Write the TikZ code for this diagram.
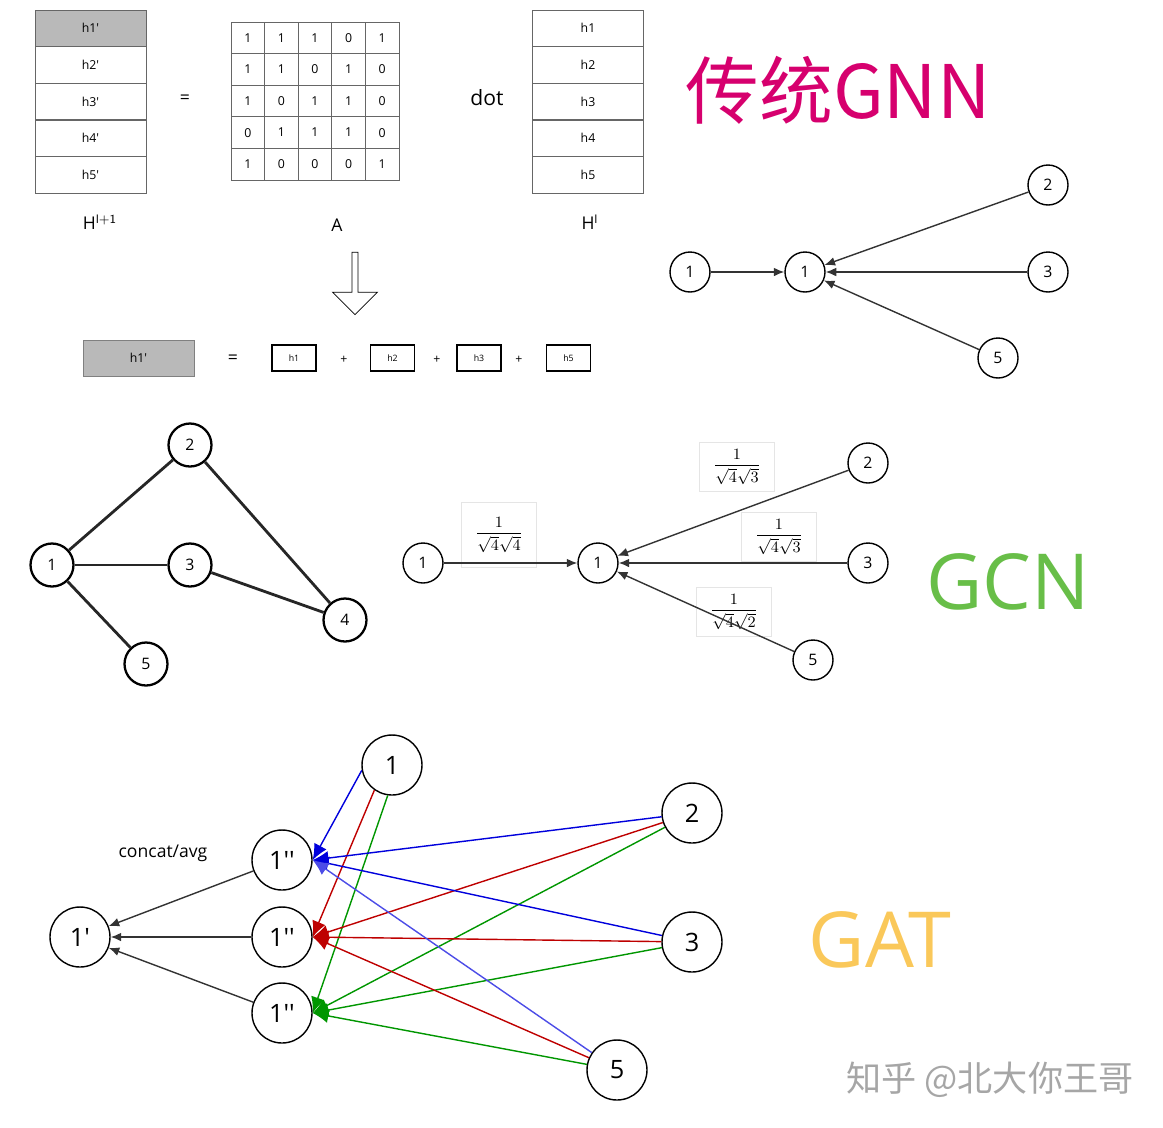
\documentclass[tikz,border=0pt]{standalone}
\usepackage{fontspec}
\setmainfont{Open Sans}
\newfontfamily\cjk{Noto Sans CJK SC}
\usetikzlibrary{arrows.meta,shapes.arrows}
\definecolor{mag}{RGB}{214,0,110}
\definecolor{gcng}{RGB}{104,190,72}
\definecolor{gato}{RGB}{250,200,90}
\definecolor{eb}{RGB}{0,0,220}
\definecolor{er}{RGB}{190,0,0}
\definecolor{eg}{RGB}{0,150,0}
\newcommand{\pq}{\textquotesingle}
\newcommand{\fr}[1]{$\displaystyle\frac{1}{#1}$}
\begin{document}
\begin{tikzpicture}[x=0.02cm,y=-0.02cm,
 cell/.style={draw=gray!80!black,minimum width=2.22cm,minimum height=0.73cm,inner sep=0,font=\scriptsize},
 mc/.style={draw=gray!80!black,minimum width=0.672cm,minimum height=0.632cm,inner sep=0,font=\scriptsize},
 sm/.style={draw,thick,minimum width=0.88cm,minimum height=0.52cm,inner sep=0,font=\tiny},
 gn/.style={circle,draw,thick,minimum size=0.8cm,inner sep=0,font=\small},
 gk/.style={circle,draw,line width=1.3pt,minimum size=0.86cm,inner sep=0,font=\small},
 tn/.style={circle,draw,thick,minimum size=1.2cm,inner sep=0,font=\Large},
 ar/.style={-{Latex[length=6pt,width=5pt]},thick,black!80},
 lb/.style={draw=gray!20,inner xsep=8pt,inner ysep=4pt,font=\small},
 ca/.style={-{Latex[length=9pt,width=8pt]},thick}]
\useasboundingbox (0,0) rectangle (1163,1127);
% left column
\foreach \i/\t in {1/h1\pq,2/h2\pq,3/h3\pq,4/h4\pq,5/h5\pq}{
 \node[cell] (L\i) at (90.5,{10+36.6*(\i-0.5)}) {\t};}
\node[cell,fill=gray!55] at (L1) {h1\pq};
% matrix
\foreach \r [count=\i] in {{1,1,1,0,1},{1,1,0,1,0},{1,0,1,1,0},{0,1,1,1,0},{1,0,0,0,1}}{
 \foreach \v [count=\j] in \r {
  \node[mc] (m\i\j) at ({231+33.6*(\j-0.5)},{22+31.6*(\i-0.5)}) {\v};}}
\foreach \i/\t in {1/h1,2/h2,3/h3,4/h4,5/h5}{
 \node[cell] (R\i) at (588,{10+36.6*(\i-0.5)}) {\t};}
\node (eq1) at (185,99) {=};
\node[font=\large] (dot) at (487,98) {dot};
\node (Hl1) at (100,222) {H$^{\mathsf{l+1}}$};
\node (A) at (337,225) {A};
\node (Hl) at (590,222) {H$^{\mathsf{l}}$};
\node[single arrow,draw,shape border rotate=270,minimum height=1.25cm,minimum width=0.9cm,single arrow head extend=0.28cm,inner sep=1pt] (down) at (355,282) {};
% bottom row
\node[draw=gray,fill=gray!55,minimum width=2.22cm,minimum height=0.72cm,font=\scriptsize] (hb) at (138.5,358) {h1\pq};
\node (eq2) at (233,359) {=};
\node[sm] (b1) at (294,358) {h1};
\node[font=\scriptsize] at (344,360) {+};
\node[sm] (b2) at (392.5,358) {h2};
\node[font=\scriptsize] at (437,360) {+};
\node[sm] (b3) at (479,358) {h3};
\node[font=\scriptsize] at (519,360) {+};
\node[sm] (b5) at (568.5,358) {h5};
\node[text=mag,font={\cjk\fontsize{42}{50}\selectfont}] at (838,90) {传统GNN};
% GNN graph
\node[gn] (n1l) at (690,272) {1};
\node[gn] (n1c) at (805,272) {1};
\node[gn] (n2) at (1048,185) {2};
\node[gn] (n3) at (1048,272) {3};
\node[gn] (n5) at (998,358) {5};
\foreach \s in {n1l,n2,n3,n5}{\draw[ar] (\s) -- (n1c);}
% GCN left graph
\node[gk] (g1) at (52,565) {1};
\node[gk] (g2) at (190,445) {2};
\node[gk] (g3) at (190,565) {3};
\node[gk] (g4) at (345,620) {4};
\node[gk] (g5) at (146,664) {5};
\foreach \a/\b in {g1/g2,g1/g3,g1/g5,g2/g4,g3/g4}{\draw[line width=1.6pt,black!85] (\a) -- (\b);}
% GCN right
\node[gn] (c1l) at (423,563) {1};
\node[gn] (c1c) at (598,563) {1};
\node[gn] (c2) at (868,463) {2};
\node[gn] (c3) at (868,563) {3};
\node[gn] (c5) at (813,660) {5};
\node[lb,minimum height=1.3cm] (f1) at (499,535) {\fr{\sqrt4\sqrt4}};
\node[lb] (f2) at (737,467) {\fr{\sqrt4\sqrt3}};
\node[lb] (f3) at (779,537) {\fr{\sqrt4\sqrt3}};
\node[lb] (f5) at (734,612) {\fr{\sqrt4\sqrt2}};
\foreach \s in {c1l,c2,c3,c5}{\draw[ar] (\s) -- (c1c);}
\node[text=gcng,font=\fontsize{44}{50}\selectfont] at (1008,582) {GCN};
% GAT
\node[tn] (t1) at (392,765) {1};
\node[tn] (t2) at (692,813) {2};
\node[tn] (t3) at (692,942) {3};
\node[tn] (t5) at (617,1070) {5};
\node[tn] (a1) at (282,860) {1\pq\pq};
\node[tn] (a2) at (282,937) {1\pq\pq};
\node[tn] (a3) at (282,1013) {1\pq\pq};
\node[tn] (o) at (80,937) {1\pq};
\foreach \a in {a1,a2,a3}{\draw[ar] (\a) -- (o);}
\node (cc) at (163,853) {concat/avg};
\draw[ca,eb] (t1.190) -- (a1.east);
\draw[ca,er] (t1.235) -- (a2.east);
\draw[ca,eg] (t1.262) -- (a3.east);
\foreach \s in {t2,t3}{
 \draw[ca,eb] (\s) -- (a1.east);
 \draw[ca,er] (\s) -- (a2.east);
 \draw[ca,eg] (\s) -- (a3.east);}
\draw[ca,eb!70] (t5) -- (a1.east);
\draw[ca,er] (t5) -- (a2.east);
\draw[ca,eg] (t5) -- (a3.east);
\node[text=gato,font=\fontsize{44}{50}\selectfont] at (880,940) {GAT};
\node[text=gray!70,font={\cjk\fontsize{20}{24}\selectfont}] at (990,1080) {知乎 @北大你王哥};
\end{tikzpicture}
\end{document}
